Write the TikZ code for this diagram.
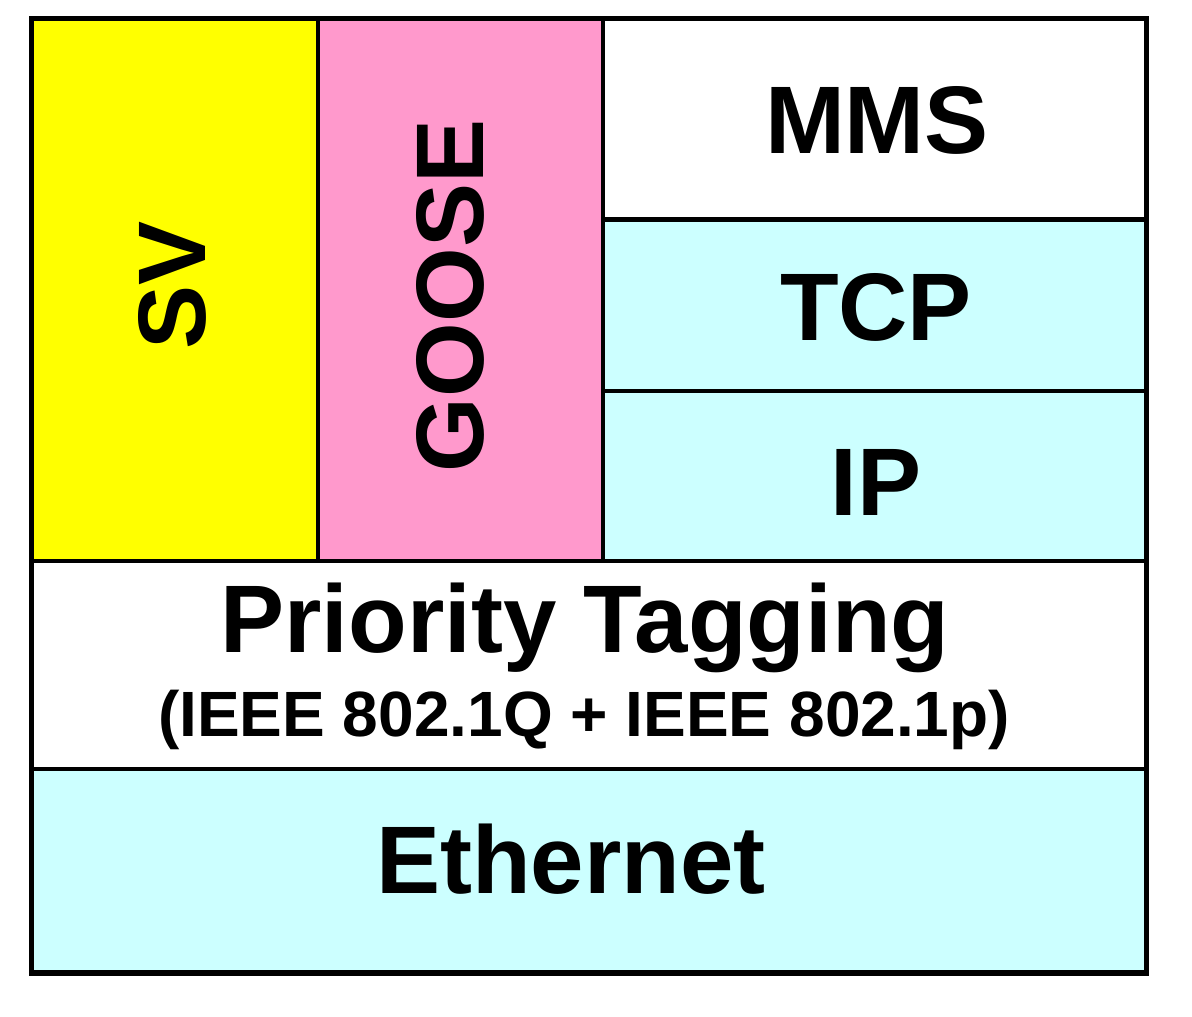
\documentclass[tikz,border=0pt]{standalone}
\usepackage{fontspec}
\setmainfont{Liberation Sans}
\definecolor{svyellow}{HTML}{FFFF00}
\definecolor{goosepink}{HTML}{FF99CC}
\definecolor{lightcyan}{HTML}{CCFFFF}
\begin{document}
\begin{tikzpicture}[x=1pt,y=-1pt,
  cell/.style={draw=black,line width=4.5pt},
  big/.style={font=\bfseries\fontsize{96}{100}\selectfont,inner sep=0pt,anchor=base},
  small/.style={font=\bfseries\fontsize{64}{68}\selectfont,inner sep=0pt,anchor=base}]
\useasboundingbox (0,0) rectangle (1192,1017);
% cells
\path[cell,fill=svyellow]  (31.5,18.5) rectangle (318,561);
\path[cell,fill=goosepink] (318,18.5) rectangle (603,561);
\path[cell,fill=white]     (603,18.5) rectangle (1146.5,219.5);
\path[cell,fill=lightcyan] (603,219.5) rectangle (1146.5,391);
\path[cell,fill=lightcyan] (603,391) rectangle (1146.5,561);
\path[cell,fill=white]     (31.5,561) rectangle (1146.5,769);
\path[cell,fill=lightcyan] (31.5,769) rectangle (1146.5,973);
\draw[line width=5.5pt] (31.5,18.5) rectangle (1146.5,973);
% labels
\node[big,rotate=90] (sv) at (205,285) {SV};
\node[big,rotate=90] (goose) at (483,296) {GOOSE};
\node[big] (mms) at (877,153) {MMS};
\node[big] (tcp) at (876,340) {TCP};
\node[big] (ip) at (876,515) {IP};
\node[big] (prio) at (585,652) {Priority Tagging};
\node[small] (ieee) at (584,736) {(IEEE 802.1Q + IEEE 802.1p)};
\node[big] (eth) at (571,893) {Ethernet};
\end{tikzpicture}
\end{document}
